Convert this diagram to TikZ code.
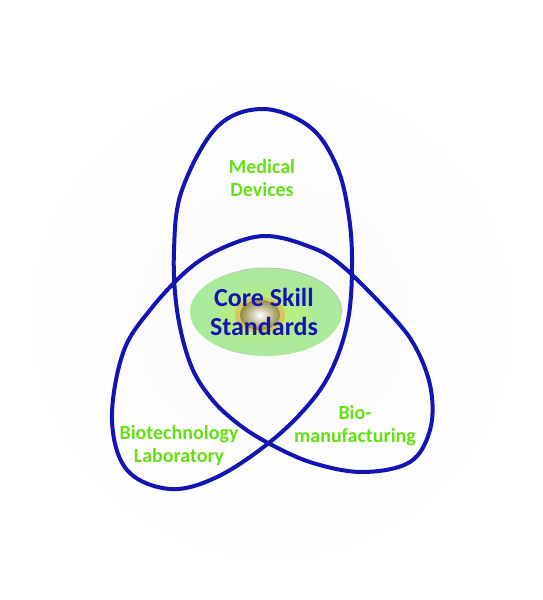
\documentclass[tikz,border=0pt]{standalone}
\usepackage{fontspec}
\setmainfont{Carlito}
\definecolor{loopblue}{RGB}{20,20,180}
\definecolor{fieldgreen}{RGB}{100,224,20}
\definecolor{coregreen}{RGB}{170,234,154}
\definecolor{ringgold}{RGB}{214,200,96}
\tikzset{every picture/.append style={x=1pt, y=-1pt}}
\tikzset{
    every node/.style={inner sep=0pt, align=center},
    field/.style={text=fieldgreen, font=\bfseries\fontsize{20}{23}\selectfont},
    core/.style={text=loopblue, font=\bfseries\fontsize{26}{29}\selectfont}
}

\begin{document}
\begin{tikzpicture}
  \useasboundingbox (0,0) rectangle (542,600);
  % faint glow behind the knot
  \shade [inner color=black!2, outer color=white] (272,318) circle (265);

  % core ellipse with its ball
  \fill [coregreen] (266,312) ellipse [x radius=76, y radius=44];
  \draw [black!25, line width=0.8pt] (342,312) arc [start angle=0, end angle=-110, x radius=76, y radius=44];
  \shade [inner color=yellow!35!coregreen, outer color=coregreen] (262,314) ellipse [x radius=56, y radius=32];
  \fill [ringgold] (260,315) ellipse [x radius=25, y radius=18];
  \shade [inner color=white, outer color=black!30!ringgold] (260,315) ellipse [x radius=20, y radius=15];

  % the three lobes
  \draw [loopblue, line width=4pt] plot [smooth cycle, tension=0.6] coordinates {
    (263,109) (310,127) (337,167) (349,217) (352,267) (348,320) (333,367)
    (310,403) (270,442) (217,477) (170,489) (127,470) (112,420) (123,353)
    (150,310) (190,268) (227,246) (265,236) (305,245) (340,264) (393,317)
    (417,350) (431,390) (430,430) (410,462) (363,472) (313,463) (270,444)
    (237,423) (210,397) (190,363) (177,310) (174,250) (182,190) (217,127)};

  \node (med) [field] at (262,178) {Medical\\Devices};
  \node (lab) [field] at (179,446) {Biotechnology\\Laboratory};
  \node (man) [field] at (355,426) {Bio-\\manufacturing};
  \node (core) [core] at (264,312) {Core Skill\\Standards};
\end{tikzpicture}
\end{document}
